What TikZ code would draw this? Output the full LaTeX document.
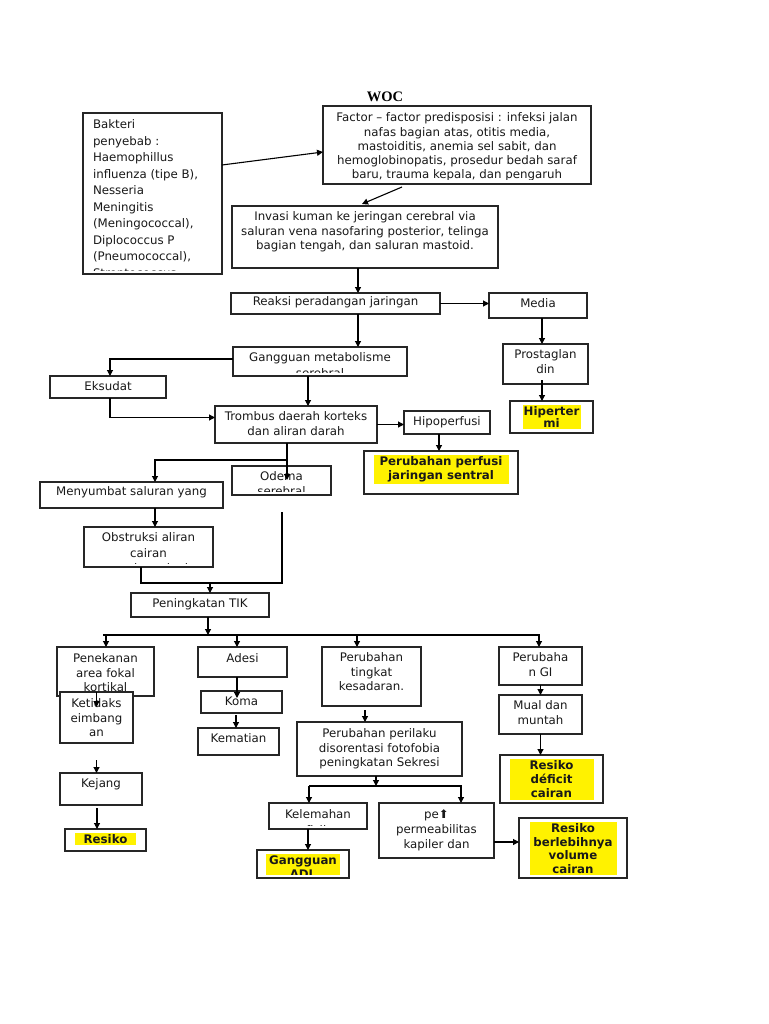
\documentclass[tikz,border=0pt]{standalone}
\usepackage{fontspec}
\setmainfont{DejaVu Sans}
\newfontfamily\titlefont{Liberation Serif}
\usetikzlibrary{arrows.meta}

\tikzset{
  wbox/.style={draw=black!85, line width=1.1pt, fill=white, inner sep=0pt, outer sep=0pt},
  wtext/.style={anchor=north, align=center, inner sep=0pt, minimum width=0pt, minimum height=0pt, text=black!90, font=\fontsize{11.8}{14.2}\selectfont},
  hl/.style={fill=yellow, inner xsep=0pt, inner ysep=1.5pt, font=\bfseries\fontsize{11.8}{14.2}\selectfont},
  conn/.style={draw=black, line width=1.1pt},
}

% box from corner (x1,y1) to (x2,y2), text hangs from the top and is clipped
\newcommand{\wocbox}[7][]{%
  \node[wbox, minimum width=#5pt-#3pt, minimum height=#6pt-#4pt,
    path picture={\node[wtext,#1] (#2-t) at ([yshift=-6pt]path picture bounding box.north) {#7};
      \fill[white] ([yshift=3.5pt]path picture bounding box.south west) rectangle (path picture bounding box.south east);}]
    (#2) at ({(#3+#5)/2},{(#4+#6)/2}) {};}

\begin{document}
\begin{tikzpicture}[x=1pt,y=-1pt,>={Triangle[length=6pt,width=6pt]}]
	\path[use as bounding box, fill=white] (0,0) rectangle (768,1024);

	\node[font=\titlefont\bfseries\fontsize{14.5}{16}\selectfont] (woc) at (385,97) {WOC};

	% top part
	\wocbox[align=left, anchor=north west, xshift=-59.5pt, yshift=-1pt, font=\fontsize{11.8}{16.5}\selectfont]{bakteri}{83}{113}{222}{274}{Bakteri\\ penyebab :\\ Haemophillus\\ influenza (tipe B),\\ Nesseria\\ Meningitis\\ (Meningococcal),\\ Diplococcus P\\ (Pneumococcal),\\ Streptococcus}
	\wocbox[yshift=-1pt]{factor}{323}{106}{591}{184}{Factor – factor predisposisi : infeksi jalan\\ nafas bagian atas, otitis media,\\ mastoiditis, anemia sel sabit, dan\\ hemoglobinopatis, prosedur bedah saraf\\ baru, trauma kepala, dan pengaruh}
	\wocbox{invasi}{232}{206}{498}{268}{Invasi kuman ke jeringan cerebral via\\ saluran vena nasofaring posterior, telinga\\ bagian tengah, dan saluran mastoid.}
	\wocbox[yshift=2pt]{reaksi}{231}{293}{440}{314}{Reaksi peradangan jaringan}
	\wocbox{media}{489}{293}{587}{318}{Media}
	\wocbox{prostag}{503}{344}{588}{384}{Prostaglan\\ din}
	\wocbox[hl, text width=58pt, yshift=2pt, font=\bfseries\fontsize{11.8}{12}\selectfont]{hiper}{510}{401}{593}{433}{Hiperter\\ mi}

	% middle part
	\wocbox[font=\fontsize{11.8}{15.5}\selectfont]{gangguan}{233}{347}{407}{376}{Gangguan metabolisme\\ serebral}
	\wocbox{eksudat}{50}{376}{166}{398}{Eksudat}
	\wocbox{trombus}{215}{406}{377}{443}{Trombus daerah korteks\\ dan aliran darah}
	\wocbox{hipo}{404}{411}{490}{434}{Hipoperfusi}
	\wocbox[hl, text width=135pt, yshift=2pt]{perfusi}{364}{451}{518}{494}{Perubahan perfusi\\ jaringan sentral}
	\wocbox{odema}{232}{466}{331}{495}{Odema\\ serebral}
	\wocbox[yshift=1pt]{menyumbat}{40}{482}{223}{508}{Menyumbat saluran yang}
	\wocbox[font=\fontsize{11.8}{15.3}\selectfont]{obstruksi}{84}{527}{213}{567}{Obstruksi aliran\\ cairan\\ serebrospinal}
	\wocbox{tik}{131}{593}{269}{617}{Peningkatan TIK}

	% lower part
	\wocbox[yshift=-1pt]{penekanan}{57}{647}{154}{696}{Penekanan\\ area fokal\\ kortikal}
	\wocbox[yshift=-1pt]{ketidak}{60}{692}{133}{743}{Ketidaks\\ eimbang\\ an}
	\wocbox{kejang}{60}{773}{142}{805}{Kejang}
	\wocbox[hl, text width=61pt, yshift=2pt]{resiko1}{65}{829}{146}{851}{Resiko}
	\wocbox[yshift=-1pt]{adesi}{198}{647}{287}{677}{Adesi}
	\wocbox{koma}{201}{691}{282}{713}{Koma}
	\wocbox{kematian}{198}{728}{279}{755}{Kematian}
	\wocbox{tingkat}{322}{647}{421}{706}{Perubahan\\ tingkat\\ kesadaran.}
	\wocbox[yshift=-1pt]{perilaku}{297}{722}{462}{776}{Perubahan perilaku\\ disorentasi fotofobia\\ peningkatan Sekresi}
	\wocbox[yshift=-1pt, font=\fontsize{11.8}{15.5}\selectfont]{kelemahan}{269}{803}{367}{829}{Kelemahan\\ fisik}
	\wocbox[hl, text width=74pt, yshift=2pt]{adl}{257}{850}{349}{878}{Gangguan\\ ADL}
	\wocbox[yshift=-1pt, font=\fontsize{11.8}{15}\selectfont]{permea}{379}{803}{494}{858}{pe⬆\\ permeabilitas\\ kapiler dan}
	\wocbox[hl, text width=87pt, yshift=2pt, font=\bfseries\fontsize{11.8}{13.7}\selectfont]{resiko2}{519}{818}{627}{878}{Resiko\\ berlebihnya\\ volume\\ cairan}
	\wocbox{gi}{499}{647}{582}{685}{Perubaha\\ n GI}
	\wocbox{mual}{499}{695}{582}{734}{Mual dan\\ muntah}
	\wocbox[hl, text width=84pt, yshift=2pt]{deficit}{500}{755}{603}{803}{Resiko\\ déficit\\ cairan}

	% junctions
	\coordinate (jtr) at (287,460);
	\coordinate (jtik) at (282,583);
	\coordinate (jbus) at (208,635);
	\coordinate (busl) at (103,635);
	\coordinate (busr) at (540,635);
	\coordinate (jb2) at (376,786);
	\coordinate (b2l) at (309,786);
	\coordinate (b2r) at (462,786);

	% connectors, top
	\draw[conn,->] ([yshift=28.5pt]bakteri.east) -- ([yshift=-7pt]factor.west);
	\draw[conn,->] ([xshift=-55pt,yshift=-3pt]factor.south) -- ([xshift=-3pt,yshift=2pt]invasi.north);
	\draw[conn,->] ([xshift=-7pt]invasi.south) -- ([xshift=22.5pt]reaksi.north);
	\draw[conn,->] (reaksi.east) -- (reaksi.east -| media.west);
	\draw[conn,->] ([xshift=4pt]media.south) -- ([xshift=-3.5pt]prostag.north);
	\draw[conn,->] ([xshift=-3.5pt,yshift=4pt]prostag.south) -- ([xshift=-9.5pt]hiper.north);
	\draw[conn,->] ([xshift=22.5pt]reaksi.south) -- ([xshift=38pt]gangguan.north);

	% connectors, middle
	\draw[conn,->] ([yshift=2.5pt]gangguan.west) -| ([xshift=2pt]eksudat.north);
	\draw[conn,->] ([xshift=2pt]eksudat.south) |- ([yshift=7pt]trombus.west);
	\draw[conn,->] ([xshift=-12pt]gangguan.south) -- ([xshift=12pt]trombus.north);
	\draw[conn,->] (trombus.east) -- (trombus.east -| hipo.west);
	\draw[conn,->] ([xshift=-8pt]hipo.south) -- ([xshift=-2pt]perfusi.north);
	\draw[conn,->] ([xshift=-9pt]trombus.south) -- ([xshift=5.5pt,yshift=-14pt]odema.north);
	\draw[conn,->] (jtr) -| ([xshift=23.5pt]menyumbat.north);
	\draw[conn,->] ([xshift=23.5pt]menyumbat.south) -- ([xshift=6.5pt]obstruksi.north);
	\draw[conn] ([xshift=0.5pt,yshift=-17pt]odema.south) -- (jtik) -| ([xshift=-7.5pt]obstruksi.south);
	\draw[conn,->] ([xshift=10pt,yshift=10pt]tik.north) -- ([xshift=10pt]tik.north);
	\draw[conn,->] ([xshift=8pt]tik.south) -- (jbus);

	% connectors, lower
	\draw[conn] (busl) -- (busr);
	\draw[conn,<-] ([xshift=0.5pt]penekanan.north) -- ++(0,-12);
	\draw[conn,<-] ([xshift=-5.5pt]adesi.north) -- ++(0,-12);
	\draw[conn,<-] ([xshift=-14.5pt]tingkat.north) -- ++(0,-12);
	\draw[conn,<-] ([xshift=-1.5pt]gi.north) -- ++(0,-12);
	\draw[conn,->] (ketidak.north) -- ++(0,15);
	\draw[conn,->] ([yshift=-17pt]ketidak.south) -- ([xshift=-4.5pt]kejang.north);
	\draw[conn,->] ([xshift=-4pt,yshift=-3pt]kejang.south) -- ([xshift=-8.5pt]resiko1.north);
	\draw[conn,->] ([xshift=-5.5pt]adesi.south) -- ++(0,21);
	\draw[conn,->] ([xshift=-5.5pt,yshift=-2pt]koma.south) -- ([xshift=-2.5pt]kematian.north);
	\draw[conn,->] ([xshift=-6.5pt,yshift=-4pt]tingkat.south) -- ([xshift=-14.5pt]perilaku.north);
	\draw[conn,->] ([xshift=-3.5pt]perilaku.south) -- (jb2);
	\draw[conn] (b2l) -- (b2r);
	\draw[conn,<-] ([xshift=-9pt]kelemahan.north) -- ++(0,-17);
	\draw[conn,<-] ([xshift=24.5pt]permea.north) -- ++(0,-17);
	\draw[conn,->] ([xshift=-10pt]kelemahan.south) -- ([xshift=5pt]adl.north);
	\draw[conn,->] ([yshift=-11.5pt]permea.east) -- ([yshift=6pt]resiko2.west);
	\draw[conn,->] (gi.south) -- (mual.north);
	\draw[conn,->] (mual.south) -- ([xshift=-11pt]deficit.north);
\end{tikzpicture}
\end{document}
